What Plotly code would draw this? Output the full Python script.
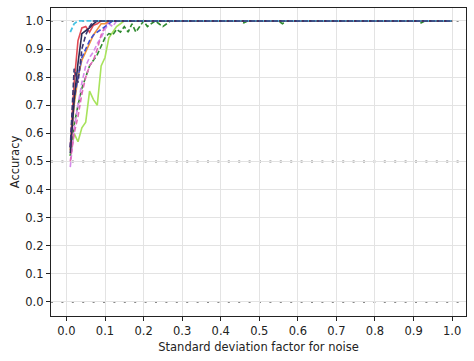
import plotly.graph_objects as go

# x grid: 0.01..0.30 step 0.01, then sparse tail
x_head = [0.01, 0.02, 0.03, 0.04, 0.05, 0.06, 0.07, 0.08, 0.09, 0.10,
          0.11, 0.12, 0.13, 0.14, 0.15, 0.16, 0.17, 0.18, 0.19, 0.20,
          0.21, 0.22, 0.23, 0.24, 0.25, 0.26, 0.27, 0.28, 0.29, 0.30]
x_tail = [0.35, 0.40, 0.45, 0.46, 0.47, 0.50, 0.55, 0.56, 0.57, 0.60,
          0.70, 0.80, 0.90, 0.91, 0.92, 0.93, 1.00]
x_vals = x_head + x_tail

tail_ones = [1.0, 1.0, 1.0, 1.0, 1.0, 1.0, 1.0, 1.0, 1.0, 1.0,
             1.0, 1.0, 1.0, 1.0, 1.0, 1.0, 1.0]
tail_dark_green = [1.0, 1.0, 1.0, 0.993, 1.0, 1.0, 1.0, 0.99, 1.0, 1.0,
                   1.0, 1.0, 1.0, 1.0, 0.993, 1.0, 1.0]

light_green = [0.52, 0.60, 0.57, 0.62, 0.64, 0.75, 0.72, 0.70, 0.84, 0.87,
               0.94, 0.96, 0.98, 0.99, 1.0, 1.0, 1.0, 1.0, 1.0, 1.0,
               1.0, 1.0, 1.0, 1.0, 1.0, 1.0, 1.0, 1.0, 1.0, 1.0]
dark_green = [0.52, 0.63, 0.70, 0.76, 0.80, 0.84, 0.86, 0.88, 0.91, 0.94,
              0.955, 0.95, 0.97, 0.96, 0.98, 0.96, 0.99, 0.96, 0.98, 1.0,
              0.98, 0.99, 1.0, 0.99, 0.98, 0.99, 1.0, 1.0, 1.0, 1.0]
orchid = [0.48, 0.62, 0.70, 0.78, 0.84, 0.87, 0.89, 0.92, 0.94, 0.97,
          0.99, 0.98, 1.0, 1.0, 1.0, 1.0, 1.0, 1.0, 1.0, 1.0,
          1.0, 1.0, 1.0, 1.0, 1.0, 1.0, 1.0, 1.0, 1.0, 1.0]
pink = [0.50, 0.60, 0.66, 0.74, 0.80, 0.84, 0.86, 0.90, 0.95, 0.98,
        1.0, 1.0, 1.0, 1.0, 1.0, 1.0, 1.0, 1.0, 1.0, 1.0,
        1.0, 1.0, 1.0, 1.0, 1.0, 1.0, 1.0, 1.0, 1.0, 1.0]
orange = [0.54, 0.70, 0.80, 0.86, 0.89, 0.92, 0.95, 0.97, 0.99, 0.99,
          1.0, 1.0, 1.0, 1.0, 1.0, 1.0, 1.0, 1.0, 1.0, 1.0,
          1.0, 1.0, 1.0, 1.0, 1.0, 1.0, 1.0, 1.0, 1.0, 1.0]
red = [0.55, 0.78, 0.93, 0.975, 0.98, 0.96, 0.985, 0.99, 1.0, 1.0,
       1.0, 1.0, 1.0, 1.0, 1.0, 1.0, 1.0, 1.0, 1.0, 1.0,
       1.0, 1.0, 1.0, 1.0, 1.0, 1.0, 1.0, 1.0, 1.0, 1.0]
blue = [0.55, 0.72, 0.80, 0.87, 0.90, 0.93, 0.95, 0.96, 0.97, 0.98,
        0.99, 1.0, 1.0, 1.0, 1.0, 1.0, 1.0, 1.0, 1.0, 1.0,
        1.0, 1.0, 1.0, 1.0, 1.0, 1.0, 1.0, 1.0, 1.0, 1.0]
cyan = [0.96, 0.99, 1.0, 1.0, 1.0, 1.0, 1.0, 1.0, 1.0, 1.0,
        1.0, 1.0, 1.0, 1.0, 1.0, 1.0, 1.0, 1.0, 1.0, 1.0,
        1.0, 1.0, 1.0, 1.0, 1.0, 1.0, 1.0, 1.0, 1.0, 1.0]
navy = [0.53, 0.72, 0.85, 0.955, 0.965, 0.975, 0.99, 1.0, 1.0, 1.0,
        1.0, 1.0, 1.0, 1.0, 1.0, 1.0, 1.0, 1.0, 1.0, 1.0,
        1.0, 1.0, 1.0, 1.0, 1.0, 1.0, 1.0, 1.0, 1.0, 1.0]
purple = [0.55, 0.83, 0.78, 0.90, 0.95, 0.98, 1.0, 1.0, 1.0, 1.0,
          1.0, 1.0, 1.0, 1.0, 1.0, 1.0, 1.0, 1.0, 1.0, 1.0,
          1.0, 1.0, 1.0, 1.0, 1.0, 1.0, 1.0, 1.0, 1.0, 1.0]

series = [
    ("light_green", light_green, tail_ones, "#a8e35c", "solid"),
    ("dark_green", dark_green, tail_dark_green, "#2f8a2f", "dash"),
    ("orchid", orchid, tail_ones, "#d58ae8", "dash"),
    ("pink", pink, tail_ones, "#e068b8", "dash"),
    ("orange", orange, tail_ones, "#f0923a", "solid"),
    ("red", red, tail_ones, "#e24b55", "solid"),
    ("blue", blue, tail_ones, "#3d4fd6", "dash"),
    ("navy", navy, tail_ones, "#2b2b52", "solid"),
    ("cyan", cyan, tail_ones, "#45c3e3", "solid_dash"),
    ("purple", purple, tail_ones, "#3c3470", "dash"),
]

y_ticks = [0.0, 0.1, 0.2, 0.3, 0.4, 0.5, 0.6, 0.7, 0.8, 0.9, 1.0]
x_ticks = [0.0, 0.1, 0.2, 0.3, 0.4, 0.5, 0.6, 0.7, 0.8, 0.9, 1.0]
ref_levels = [0.0, 0.5, 1.0]

fig = go.Figure()
for name, head, tail, color, dash in series:
    fig.add_trace(go.Scatter(
        x=x_vals, y=head + tail, mode="lines", name=name,
        line=dict(color=color, width=1.8 if name == "cyan" else 1.6,
                  dash="solid" if dash == "solid" else "5px,2.5px"),
        showlegend=False,
    ))

for lvl in ref_levels:
    fig.add_shape(type="line", xref="paper", x0=0, x1=1, yref="y", y0=lvl, y1=lvl,
                  line=dict(color="#888888", width=2, dash="2px,8.4px"),
                  layer="below")

font = dict(family="DejaVu Sans", size=11.5, color="#222")
axis_common = dict(
    showline=True, linecolor="#222", linewidth=1.2, mirror=True,
    ticks="outside", ticklen=4, tickcolor="#222", tickwidth=1,
    showgrid=True, gridcolor="#e3e3e3", gridwidth=1, zeroline=False,
    tickfont=font, automargin=False,
)

fig.update_xaxes(range=[-0.04, 1.036], tickvals=x_ticks,
                 ticktext=[f"{v:.1f}" for v in x_ticks],
                 title=dict(text="Standard deviation factor for noise",
                            font=font, standoff=6),
                 **axis_common)
fig.update_yaxes(range=[-0.05, 1.046], tickvals=y_ticks,
                 ticktext=[f"{v:.1f}" for v in y_ticks],
                 title=dict(text="Accuracy", font=font, standoff=3),
                 **axis_common)

fig.update_layout(
    width=474, height=361,
    margin=dict(l=51, r=8, t=8, b=45),
    paper_bgcolor="white", plot_bgcolor="white",
)

fig.write_html("out.html", config={"displayModeBar": False},
               post_script="document.body.style.margin='0px';document.body.style.overflow='hidden';")
